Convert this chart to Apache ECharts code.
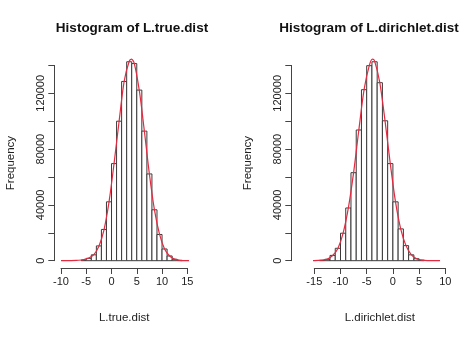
<!DOCTYPE html>
<html>
<head>
<meta charset="utf-8">
<script src="https://cdn.jsdelivr.net/npm/echarts@6/dist/echarts.min.js"></script>
<style>html,body{margin:0;padding:0;background:#fff;}#c{width:474px;height:338px;}</style>
</head>
<body>
<div id="c"></div>
<script>
// ---- data ----
const titles = ['Histogram of L.true.dist', 'Histogram of L.dirichlet.dist'];
const xNames = ['L.true.dist', 'L.dirichlet.dist'];
const yName = 'Frequency';

// left: bins of width 1, starting at binStartTrue
const binStartTrue = [-6, -5, -4, -3, -2, -1, 0, 1, 2, 3, 4, 5, 6, 7, 8, 9, 10, 11, 12, 13];
const countsTrue = [500, 1700, 4200, 10600, 22400, 42200, 69600, 100000, 128500, 142600, 141300, 122300, 92900, 62200, 36500, 18800, 8400, 3400, 1000, 250];
const curveXTrue = [-10, -8, -7, -6, -5.5, -4.5, -3.5, -2.5, -1.5, -0.5, 0.5, 1.5, 2.5, 3.5, 3.95, 4.5, 5.5, 6.5, 7.5, 8.5, 9.5, 10.5, 11.5, 12.5, 13.5, 15, 18];
const curveYTrue = [0, 60, 200, 500, 800, 1900, 4300, 10400, 22000, 42000, 69600, 100000, 128600, 143000, 144500, 141500, 122000, 93000, 62000, 36400, 19000, 8400, 3400, 1100, 300, 40, 0];

// right
const binStartDir = [-14, -13, -12, -11, -10, -9, -8, -7, -6, -5, -4, -3, -2, -1, 0, 1, 2, 3, 4, 5];
const countsDir = [250, 1000, 3800, 8900, 19700, 37800, 63100, 93700, 122600, 139800, 142600, 127600, 100300, 69600, 42200, 22800, 10800, 4200, 1400, 400];
const curveXDir = [-18, -15, -13.5, -12.5, -11.5, -10.5, -9.5, -8.5, -7.5, -6.5, -5.5, -4.5, -3.9, -3.5, -2.5, -1.5, -0.5, 0.5, 1.5, 2.5, 3.5, 4.5, 5.5, 6, 7, 9];
const curveYDir = [0, 40, 350, 1100, 3700, 8800, 19800, 37800, 63100, 93700, 122600, 140000, 144500, 143200, 127700, 100200, 69600, 42200, 22700, 10800, 4300, 1400, 400, 250, 80, 0];

// axis tick ranges
const xTickRange = [[-10, 15], [-15, 10]];
const yTickRange = [0, 140000];
const yTickStep = 20000;
const yLabelStep = 40000;

// ---- layout ----
const FONT = 'Liberation Sans, Arial, Helvetica, sans-serif';
const grids = [
  {left: 61, top: 65.4, width: 126.3, height: 195.3, yOffset: 6.7, titleX: 132},
  {left: 314.3, top: 65.4, width: 131, height: 195.3, yOffset: 23, titleX: 369}
];
const axisColor = '#444';
const textColor = '#222';

function histData(starts, counts) {
  return starts.map((s, i) => [s, s + 1, counts[i]]);
}
function curveData(xs, ys) {
  return xs.map((x, i) => [x, ys[i]]);
}

const renderBar = function (params, api) {
  const p0 = api.coord([api.value(0), 0]);
  const p1 = api.coord([api.value(1), api.value(2)]);
  return {
    type: 'rect',
    shape: {x: p0[0], y: p1[1], width: p1[0] - p0[0], height: p0[1] - p1[1]},
    style: {fill: '#fff', stroke: '#3a3a3a', lineWidth: 1}
  };
};

const option = {
  animation: false,
  backgroundColor: '#fff',
  textStyle: {fontFamily: FONT},
  title: titles.map((t, i) => ({
    text: t,
    left: grids[i].titleX,
    top: 21.5,
    padding: 0,
    textAlign: 'center',
    textStyle: {fontSize: 13.5, fontWeight: 'bold', color: '#111', fontFamily: FONT}
  })),
  grid: grids.map(g => ({left: g.left, top: g.top, width: g.width, height: g.height})),
  xAxis: grids.map((g, i) => ({
    type: 'value',
    gridIndex: i,
    min: xTickRange[i][0],
    max: xTickRange[i][1],
    interval: 5,
    offset: 7.3,
    name: xNames[i],
    nameLocation: 'middle',
    nameGap: 44,
    nameTextStyle: {fontSize: 11.5, color: textColor, fontFamily: FONT},
    splitLine: {show: false},
    axisLine: {show: true, onZero: false, lineStyle: {color: axisColor, width: 1}},
    axisTick: {show: true, length: 6, lineStyle: {color: axisColor}},
    axisLabel: {fontSize: 11, color: textColor, margin: 8, fontFamily: FONT}
  })),
  yAxis: grids.map((g, i) => ({
    type: 'value',
    gridIndex: i,
    min: yTickRange[0],
    max: yTickRange[1],
    interval: yTickStep,
    offset: g.yOffset,
    name: yName,
    nameLocation: 'middle',
    nameGap: 37,
    nameRotate: 90,
    nameTextStyle: {fontSize: 11.5, color: textColor, fontFamily: FONT},
    splitLine: {show: false},
    axisLine: {show: true, onZero: false, lineStyle: {color: axisColor, width: 1}},
    axisTick: {show: true, length: 6, lineStyle: {color: axisColor}},
    axisLabel: {
      fontSize: 11, color: textColor, margin: 8, rotate: 90, fontFamily: FONT,
      formatter: v => (v % yLabelStep === 0 ? String(v) : '')
    }
  })),
  series: [
    {type: 'custom', xAxisIndex: 0, yAxisIndex: 0, renderItem: renderBar, clip: false,
      encode: {x: [0, 1], y: 2}, data: histData(binStartTrue, countsTrue), z: 2},
    {type: 'line', xAxisIndex: 0, yAxisIndex: 0, data: curveData(curveXTrue, curveYTrue),
      showSymbol: false, symbol: 'none', smooth: 0.3, clip: false, z: 3,
      lineStyle: {color: '#e42a40', width: 1.2}},
    {type: 'custom', xAxisIndex: 1, yAxisIndex: 1, renderItem: renderBar, clip: false,
      encode: {x: [0, 1], y: 2}, data: histData(binStartDir, countsDir), z: 2},
    {type: 'line', xAxisIndex: 1, yAxisIndex: 1, data: curveData(curveXDir, curveYDir),
      showSymbol: false, symbol: 'none', smooth: 0.3, clip: false, z: 3,
      lineStyle: {color: '#e42a40', width: 1.2}}
  ]
};

const chart = echarts.init(document.getElementById('c'), null, {renderer: 'canvas'});
chart.setOption(option);
</script>
</body>
</html>
